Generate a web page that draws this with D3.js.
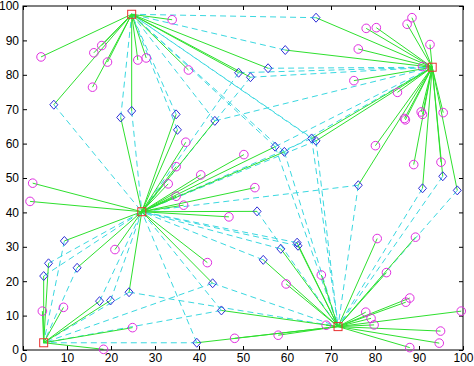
<!DOCTYPE html>
<html>
<head>
<meta charset="utf-8">
<script src="https://cdn.jsdelivr.net/npm/d3@7"></script>
<style>
body { margin: 0; background: #fff; }
svg { display: block; }
.tick text { font-family: "Liberation Sans", Arial, sans-serif; font-size: 12px; fill: #000; }
</style>
</head>
<body>
<svg id="chart" width="474" height="366"></svg>
<script>
// cluster heads (red squares)
var heads = [[24.7, 97.6], [93.0, 82.2], [27.0, 40.2], [4.7, 2.1], [71.6, 6.8]];

// ordinary members: [x, y, head index]
var circles = [
    [4.1, 85.2, 0], [16.1, 86.4, 0], [17.9, 88.5, 0], [19.2, 83.7, 0], [15.8, 76.4, 0],
    [26.1, 84.3, 0], [28.0, 84.9, 0], [33.9, 96.0, 0], [37.6, 81.4, 0],
    [78.0, 93.5, 1], [80.3, 93.7, 1], [87.3, 94.7, 1], [88.4, 96.6, 1], [92.5, 88.8, 1],
    [76.2, 87.5, 1], [75.2, 78.3, 1], [90.8, 82.4, 1], [85.1, 74.9, 1], [86.7, 67.3, 1],
    [86.9, 66.9, 1], [90.5, 69.2, 1], [90.8, 68.5, 1], [95.5, 69.0, 1], [80.1, 59.4, 1],
    [88.8, 53.9, 1], [95.0, 54.6, 1],
    [37.0, 60.4, 2], [50.2, 56.8, 2], [40.4, 50.9, 2], [33.0, 48.3, 2], [34.8, 53.3, 2],
    [52.7, 47.2, 2], [34.8, 44.7, 2], [36.5, 42.1, 2], [46.8, 38.7, 2], [2.2, 48.5, 2],
    [1.6, 43.2, 2], [20.9, 29.2, 2], [41.9, 25.4, 2],
    [4.4, 11.3, 3], [9.2, 12.4, 3], [24.9, 6.5, 3], [18.3, 0.2, 3],
    [80.5, 32.4, 4], [89.2, 32.8, 4], [67.8, 21.8, 4], [82.6, 22.5, 4], [59.8, 19.2, 4],
    [87.9, 15.1, 4], [87.0, 13.9, 4], [77.9, 11.0, 4], [79.1, 9.2, 4], [79.8, 7.3, 4],
    [99.6, 11.3, 4], [94.9, 5.5, 4], [94.6, 2.0, 4], [87.9, 0.7, 4], [58.0, 4.3, 4],
    [48.1, 3.4, 4], [68.9, 7.2, 4]
];

// border members: [x, y, head index, other heads reached (dashed)]
var diamonds = [
    [7.0, 71.3, 0, [2]], [24.7, 69.5, 0, [2]], [22.2, 67.6, 2, [0]], [34.8, 68.5, 2, [0]],
    [35.1, 64.0, 2, [0]], [43.6, 66.6, 2, [0, 1]], [49.0, 80.6, 0, [1, 2]], [51.7, 79.3, 0, [1, 2]],
    [55.7, 81.9, 0, [1]], [59.6, 87.2, 1, [0]], [66.6, 96.6, 1, [0]],
    [57.3, 59.1, 2, [0, 1, 4]], [59.4, 57.6, 2, [0, 1, 4]], [65.6, 61.5, 1, [0, 2, 4]],
    [66.6, 60.8, 1, [0, 2, 4]], [76.2, 47.9, 1, [2, 4]], [90.8, 47.0, 1, [4]],
    [95.4, 50.5, 1, [4]], [98.7, 46.4, 1, [4]], [53.2, 40.3, 2, [4]],
    [62.3, 31.2, 4, [2]], [62.5, 30.3, 4, [2]], [58.6, 29.4, 4, [2]], [54.6, 26.2, 4, [2]],
    [43.1, 19.4, 2, [3, 4]], [45.1, 11.5, 4, [2, 3]], [39.5, 2.1, 4, [2, 3]],
    [24.1, 16.8, 2, [3, 4]], [17.4, 14.2, 3, [2]], [19.9, 14.4, 3, [2]],
    [12.3, 23.9, 2, [3]], [9.4, 31.7, 2, [3]], [5.8, 25.2, 3, [2]], [4.7, 21.5, 3, [2]]
];

var ticks = [0, 10, 20, 30, 40, 50, 60, 70, 80, 90, 100];

var svg = d3.select("#chart");
var x = d3.scaleLinear().domain([0, 100]).range([23, 463]);
var y = d3.scaleLinear().domain([0, 100]).range([350, 6]);

// dashed links from border nodes to other heads
var dashed = [];
diamonds.forEach(function (d) {
    d[3].forEach(function (h) { dashed.push([d, heads[h]]); });
});
svg.append("g").selectAll("line").data(dashed).enter().append("line")
    .attr("x1", function (d) { return x(d[0][0]); })
    .attr("y1", function (d) { return y(d[0][1]); })
    .attr("x2", function (d) { return x(d[1][0]); })
    .attr("y2", function (d) { return y(d[1][1]); })
    .attr("stroke", "#3ad8e0")
    .attr("stroke-width", 1)
    .attr("stroke-dasharray", "6,4");

// solid links to own head
var members = circles.concat(diamonds);
svg.append("g").selectAll("line").data(members).enter().append("line")
    .attr("x1", function (d) { return x(d[0]); })
    .attr("y1", function (d) { return y(d[1]); })
    .attr("x2", function (d) { return x(heads[d[2]][0]); })
    .attr("y2", function (d) { return y(heads[d[2]][1]); })
    .attr("stroke", "#2ee02e")
    .attr("stroke-width", 1);

// axes (MATLAB style, ticks inside, box)
svg.append("g").attr("transform", "translate(0,350)")
    .call(d3.axisBottom(x).tickValues(ticks).tickSizeInner(-4).tickSizeOuter(0).tickPadding(3));
svg.append("g").attr("transform", "translate(0,6)")
    .call(d3.axisTop(x).tickValues(ticks).tickSizeInner(-4).tickSizeOuter(0).tickFormat(""));
svg.append("g").attr("transform", "translate(23,0)")
    .call(d3.axisLeft(y).tickValues(ticks).tickSizeInner(-4).tickSizeOuter(0).tickPadding(4));
svg.append("g").attr("transform", "translate(463,0)")
    .call(d3.axisRight(y).tickValues(ticks).tickSizeInner(-4).tickSizeOuter(0).tickFormat(""));
svg.selectAll(".domain").remove();
svg.append("rect").attr("x", 23).attr("y", 6).attr("width", 440).attr("height", 344)
    .attr("fill", "none").attr("stroke", "#000").attr("stroke-width", 1);

// markers
svg.append("g").selectAll("circle").data(circles).enter().append("circle")
    .attr("cx", function (d) { return x(d[0]); })
    .attr("cy", function (d) { return y(d[1]); })
    .attr("r", 4.3)
    .attr("fill", "none")
    .attr("stroke", "#e030e0");

svg.append("g").selectAll("path").data(diamonds).enter().append("path")
    .attr("d", function (d) {
        var cx = x(d[0]), cy = y(d[1]);
        return "M" + cx + "," + (cy - 4.5) + "L" + (cx + 4) + "," + cy + "L" + cx + "," + (cy + 4.5) + "L" + (cx - 4) + "," + cy + "Z";
    })
    .attr("fill", "none")
    .attr("stroke", "#3030d8");

svg.append("g").selectAll("rect").data(heads).enter().append("rect")
    .attr("x", function (d) { return x(d[0]) - 4; })
    .attr("y", function (d) { return y(d[1]) - 4; })
    .attr("width", 8)
    .attr("height", 8)
    .attr("fill", "none")
    .attr("stroke", "#e83030");
</script>
</body>
</html>
